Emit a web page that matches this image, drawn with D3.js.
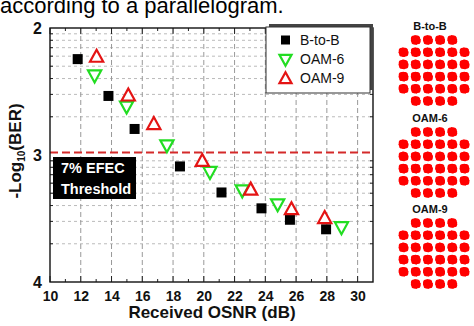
<!DOCTYPE html>
<html><head><meta charset="utf-8">
<script src="https://cdn.jsdelivr.net/npm/d3@7/dist/d3.min.js"></script>
<style>
html,body{margin:0;padding:0;background:#fff;}
svg{display:block;font-family:"Liberation Sans",Arial,sans-serif;}
</style></head>
<body>
<svg id="c" width="474" height="326"></svg>
<script>
// ---- data ----
const bbOSNR  = [11.8, 13.8, 15.5, 18.45, 21.15, 23.75, 25.6, 27.95];
const bbBER   = [2.245, 2.535, 2.795, 3.09, 3.295, 3.42, 3.51, 3.585];
const oam6OSNR = [12.9, 14.98, 17.6, 20.4, 22.5, 24.8, 28.95];
const oam6BER  = [2.37, 2.615, 2.92, 3.13, 3.275, 3.385, 3.565];
const oam9OSNR = [13.03, 15.09, 16.75, 19.9, 23.05, 25.7, 27.86];
const oam9BER  = [2.23, 2.535, 2.76, 3.05, 3.276, 3.43, 3.5];
const thresholdVal = 2.98;
const xTicks = [10,12,14,16,18,20,22,24,26,28,30];
const xMinorTicks = [11,13,15,17,19,21,23,25,27,29];
const yTicks = [2,3,4];
const yMinorMult = [2,3,4,5,6,7,8,9];
const legendNames = ["B-to-B","OAM-6","OAM-9"];
const constLabels = ["B-to-B","OAM-6","OAM-9"];
// 32-QAM cross constellation (column,row) indices
const qamCols = [0,1,2,3,4,5];
const qamRows = [0,1,2,3,4,5];
// fixed spread of each symbol cloud (dx,dy,r)
const cloudShape = [[0,0,4.3],[-1.8,-1.5,3],[1.9,1.3,3],[1.6,-1.9,2.6],[-1.7,1.8,2.6],[0,-2.6,2.2],[0,2.6,2.2],[-2.7,0,2.2],[2.7,0,2.2],[-3.5,-2.6,0.7],[3.4,2.9,0.7],[3.6,-2.4,0.6],[-3.2,3.1,0.6],[-4.3,0.6,0.5],[4.4,-0.6,0.5],[0.8,4.3,0.5],[-0.7,-4.4,0.5]];

const svg = d3.select("#c");
const L=50, R=373, T=28, B=282;
const x = d3.scaleLinear().domain([10,31]).range([L,R]);
const y = d3.scaleLinear().domain([2,4]).range([T,B]);

// header text (page fragment)
svg.append("text").attr("x",0).attr("y",13).attr("font-size",22)
  .attr("font-family","Liberation Sans, Arial, sans-serif").text("according to a parallelogram.");

const g = svg.append("g");
// grid
const gridY = [];
[2,3].forEach(d=>{ yMinorMult.forEach(m=>{ gridY.push(d+1-Math.log10(m)); }); });
g.selectAll(".gy").data(gridY).enter().append("line")
  .attr("x1",L).attr("x2",R).attr("y1",d=>y(d)).attr("y2",d=>y(d))
  .attr("stroke","#aaa").attr("stroke-width",0.8).attr("stroke-dasharray","3,3");
g.selectAll(".gx").data(xTicks.slice(1)).enter().append("line")
  .attr("y1",T).attr("y2",B).attr("x1",d=>x(d)).attr("x2",d=>x(d))
  .attr("stroke","#999").attr("stroke-width",1).attr("stroke-dasharray","5,3");

// ticks
const tk = svg.append("g").attr("stroke","#222").attr("stroke-width",1);
xTicks.forEach(v=>{ tk.append("line").attr("x1",x(v)).attr("x2",x(v)).attr("y1",B).attr("y2",B-6);
                    tk.append("line").attr("x1",x(v)).attr("x2",x(v)).attr("y1",T).attr("y2",T+6); });
xMinorTicks.forEach(v=>{ tk.append("line").attr("x1",x(v)).attr("x2",x(v)).attr("y1",B).attr("y2",B-3);
                    tk.append("line").attr("x1",x(v)).attr("x2",x(v)).attr("y1",T).attr("y2",T+3); });
gridY.forEach(v=>{ tk.append("line").attr("x1",L).attr("x2",L+3).attr("y1",y(v)).attr("y2",y(v));
                   tk.append("line").attr("x1",R).attr("x2",R-3).attr("y1",y(v)).attr("y2",y(v)); });

// threshold line
svg.append("line").attr("x1",L).attr("x2",R).attr("y1",y(thresholdVal)).attr("y2",y(thresholdVal))
  .attr("stroke","#d42a2a").attr("stroke-width",2).attr("stroke-dasharray","8,4");

// threshold label box
svg.append("rect").attr("x",53).attr("y",157).attr("width",83).attr("height",42).attr("fill","#000");
svg.append("text").attr("x",61).attr("y",173).attr("fill","#fff").attr("font-weight","bold").attr("font-size",14.5).text("7% EFEC");
svg.append("text").attr("x",61).attr("y",194).attr("fill","#fff").attr("font-weight","bold").attr("font-size",14.5).text("Threshold");

// frame
svg.append("rect").attr("x",L).attr("y",T).attr("width",R-L).attr("height",B-T)
  .attr("fill","none").attr("stroke","#111").attr("stroke-width",1.4);

// axes labels via d3 axis
const xAxis = svg.append("g").attr("transform",`translate(0,${B})`)
  .call(d3.axisBottom(x).tickValues(xTicks).tickSize(0).tickPadding(9).tickFormat(d3.format("d")));
xAxis.select(".domain").remove();
xAxis.selectAll("text").attr("font-size",14).attr("font-weight","bold").attr("fill","#111")
  .attr("font-family","Liberation Sans, Arial, sans-serif");
const yAxis = svg.append("g").attr("transform",`translate(${L},0)`)
  .call(d3.axisLeft(y).tickValues(yTicks).tickSize(0).tickPadding(8).tickFormat(d3.format("d")));
yAxis.select(".domain").remove();
yAxis.selectAll("text").attr("font-size",16).attr("font-weight","bold").attr("fill","#111")
  .attr("font-family","Liberation Sans, Arial, sans-serif");

// titles
svg.append("text").attr("x",212).attr("y",318).attr("text-anchor","middle")
  .attr("font-size",17).attr("font-weight","bold").attr("fill","#111").text("Received OSNR (dB)");
const yt = svg.append("text").attr("transform","translate(21,151) rotate(-90)").attr("text-anchor","middle")
  .attr("font-size",17).attr("font-weight","bold").attr("fill","#111");
yt.append("tspan").text("-Log");
yt.append("tspan").attr("font-size",10).attr("dy",4).text("10");
yt.append("tspan").attr("dy",-4).text("(BER)");

// markers
const green = "#22dd22", red = "#e41414";
const triUp = s => `M0,${-s*0.62}L${s*0.55},${s*0.38}L${-s*0.55},${s*0.38}Z`;
const triDown = s => `M0,${s*0.62}L${s*0.55},${-s*0.38}L${-s*0.55},${-s*0.38}Z`;
const mk = svg.append("g");
mk.selectAll(".sq").data(bbOSNR).enter().append("rect")
  .attr("x",(d,i)=>x(d)-5).attr("y",(d,i)=>y(bbBER[i])-5).attr("width",10).attr("height",10).attr("fill","#000");
mk.selectAll(".o6").data(oam6OSNR).enter().append("path")
  .attr("transform",(d,i)=>`translate(${x(d)},${y(oam6BER[i])})`).attr("d",triDown(12))
  .attr("fill","#fff").attr("stroke",green).attr("stroke-width",2.2);
mk.selectAll(".o9").data(oam9OSNR).enter().append("path")
  .attr("transform",(d,i)=>`translate(${x(d)},${y(oam9BER[i])})`).attr("d",triUp(12))
  .attr("fill","#fff").attr("stroke",red).attr("stroke-width",2.2);

// legend
svg.append("rect").attr("x",269).attr("y",24).attr("width",104).attr("height",66).attr("fill","#444");
svg.append("rect").attr("x",266).attr("y",27).attr("width",104).attr("height",66).attr("fill","#fff")
  .attr("stroke","#333").attr("stroke-width",1);
const ly = [40,59,78];
svg.append("rect").attr("x",281).attr("y",ly[0]-4.5).attr("width",9).attr("height",9).attr("fill","#000");
svg.append("path").attr("transform",`translate(285.5,${ly[1]})`).attr("d",triDown(11))
  .attr("fill","#fff").attr("stroke",green).attr("stroke-width",2.2);
svg.append("path").attr("transform",`translate(285.5,${ly[2]+1})`).attr("d",triUp(11))
  .attr("fill","#fff").attr("stroke",red).attr("stroke-width",2.2);
legendNames.forEach((n,i)=>{
  svg.append("text").attr("x",300).attr("y",ly[i]+5).attr("font-size",14).attr("fill","#111").text(n);
});

// constellations
const cTop = [35,127,218], labelY = [30,122,213];
const cx0 = 403.5, step = 12.2;
const pts = [];
qamRows.forEach(r=>qamCols.forEach(c=>{
  if ((r===0||r===5)&&(c===0||c===5)) return;
  pts.push([c,r]);
}));
cTop.forEach((t,k)=>{
  svg.append("text").attr("x",430).attr("y",labelY[k]).attr("text-anchor","middle")
    .attr("font-size",11).attr("font-weight","bold").attr("fill","#111").text(constLabels[k]);
  const cg = svg.append("g");
  pts.forEach(([c,r])=>{
    const px = cx0 + c*step, py = t + 5 + r*step;
    cloudShape.forEach(([dx,dy,rr])=>{
      cg.append("circle").attr("cx",px+dx).attr("cy",py+dy).attr("r",rr).attr("fill","#f00");
    });
  });
});
</script>
</body></html>
